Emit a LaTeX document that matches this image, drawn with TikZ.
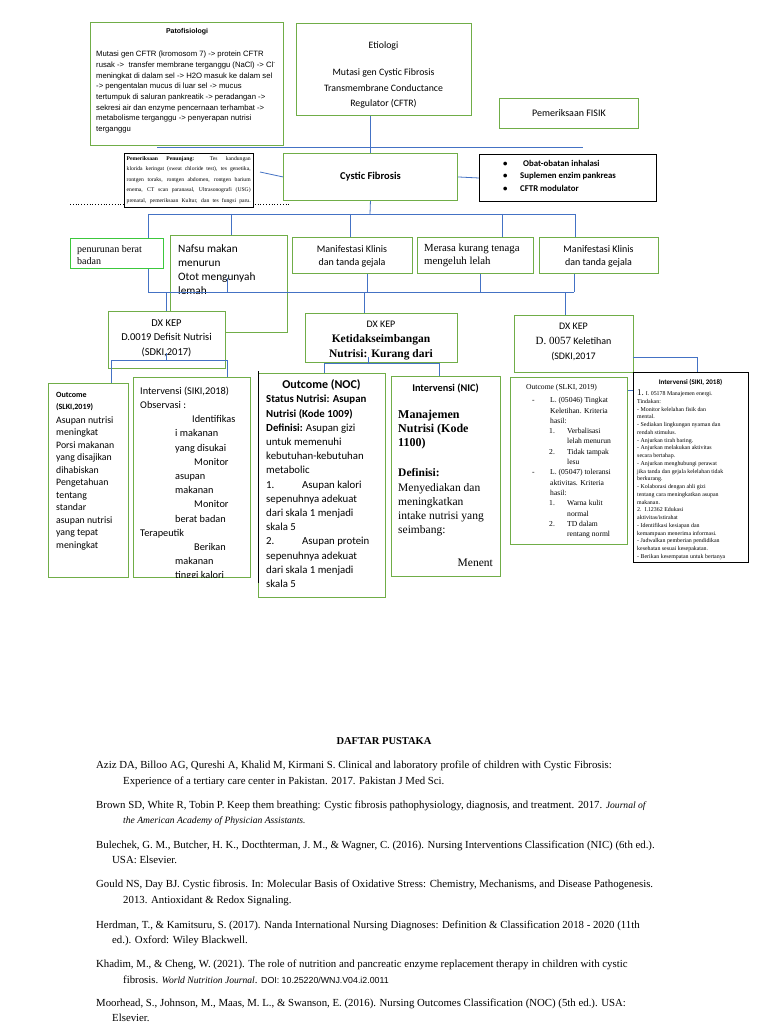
\documentclass[tikz,border=0pt]{standalone}
\usepackage{fontspec}
\setmainfont{Liberation Serif}
\newfontfamily\fcal{Carlito}
\newfontfamily\ftim{Liberation Serif}
\newfontfamily\fari{Liberation Sans}
\newcommand\fsz[2]{\fontsize{#1}{#2}\selectfont}
\definecolor{gr}{RGB}{112,173,71}
\definecolor{bgr}{RGB}{60,200,60}
\definecolor{cb}{RGB}{68,114,196}
\begin{document}
\begin{tikzpicture}[x=1pt,y=-1pt,
 gbox/.style={draw=gr,line width=0.9pt,fill=white,inner sep=0,anchor=north west},
 kbox/.style={draw=black,line width=1pt,fill=white,inner sep=0,anchor=north west},
 con/.style={draw=cb,line width=0.8pt},
 tl/.style={inner sep=0,anchor=north west,align=left},
 tc/.style={inner sep=0,anchor=north,align=center},
 tx/.style={inner sep=0}]
\useasboundingbox[fill=white] (0,0) rectangle (768,1024);

% ---------- top row
\node[gbox,minimum width=193,minimum height=123] (pat) at (90,22) {};
\node[tx,font={\fari\bfseries\fsz{7}{8}}] (patt) at (187,32) {Patofisiologi};
\node[tl,font={\fari\fsz{7.7}{10.7}}] (patb) at (96,51) {Mutasi gen CFTR (kromosom 7) -> protein CFTR\\
rusak ->\ \ transfer membrane terganggu (NaCl) -> Cl\textsuperscript{-}\\
meningkat di dalam sel -> H2O masuk ke dalam sel\\
-> pengentalan mucus di luar sel -> mucus\\
tertumpuk di saluran pankreatik -> peradangan ->\\
sekresi air dan enzyme pencernaan terhambat ->\\
metabolisme terganggu -> penyerapan nutrisi\\
terganggu};

\node[gbox,minimum width=175,minimum height=92] (eti) at (296,23) {};
\node[tx,font={\fcal\fsz{9.8}{12}}] (etit) at (383.5,46) {Etiologi};
\node[tc,font={\fcal\fsz{9.8}{15.5}}] (etib) at (383.5,68.5) {Mutasi gen Cystic Fibrosis\\Transmembrane Conductance\\Regulator (CFTR)};

\node[gbox,minimum width=139,minimum height=30] (fis) at (499,98) {};
\node[tx,font={\fcal\fsz{10}{12}}] (fist) at (fis.center) {Pemeriksaan FISIK};

% ---------- second row
\coordinate (b0l) at (157,147);
\coordinate (b0r) at (583,147);
\draw[con] (b0l) -- (b0r);

\coordinate (dl) at (70,204);
\coordinate (dr) at (290,204);
\draw[black,dotted,line width=0.8pt] (dl) -- (dr);

\node[gbox,minimum width=174,minimum height=47] (cf) at (283,153) {};
\node[tx,font={\fcal\bfseries\fsz{10.5}{12}}] (cft) at (cf.center) {Cystic Fibrosis};
\draw[con] (eti.south -| cf.north) -- (cf.north);

\node[kbox,minimum width=129,minimum height=54] (pen) at (124,153) {};
\node[tl,font={\ftim\fsz{5.65}{10.5}}] (pent) at (126.5,156) {%
\makebox[124pt][s]{\textbf{Pemeriksaan Penunjang:} Tes kandungan}\\
\makebox[124pt][s]{klorida keringat (sweat chloride test), tes genetika,}\\
\makebox[124pt][s]{rontgen toraks, rontgen abdomen, rontgen barium}\\
\makebox[124pt][s]{enema, CT scan paranasal, Ultrasonografi (USG)}\\
\makebox[124pt][s]{prenatal, pemeriksaan Kultur, dan tes fungsi paru.}};
\coordinate (pj) at (260,172);
\draw[con] (cf.west) -- (pj);

\node[kbox,minimum width=177,minimum height=47] (obat) at (479,154) {};
\node[tl,font={\fcal\bfseries\fsz{8.8}{12.5}}] (obatt) at (503,160) {%
\makebox[17pt][l]{\textbullet}\hspace{3pt}Obat-obatan inhalasi\\
\makebox[17pt][l]{\textbullet}Suplemen enzim pankreas\\
\makebox[17pt][l]{\textbullet}CFTR modulator};
\draw[con] (cf.east) -- (obat.west);

% ---------- third row
\node[gbox,draw=bgr,minimum width=93,minimum height=30] (pbb) at (70,238) {};
\node[tl,font={\ftim\fsz{10}{12}}] (pbbt) at (77,245.5) {penurunan berat\\badan};

\node[gbox,minimum width=117,minimum height=97] (naf) at (170,235) {};
\node[tl,font={\fcal\fsz{11.3}{14}}] (naft) at (178,244) {Nafsu makan\\menurun\\Otot mengunyah\\lemah};

\node[gbox,minimum width=120,minimum height=36] (mk1) at (292,237) {};
\node[tc,font={\fcal\fsz{10}{13}}] (mk1t) at (352,245.5) {Manifestasi Klinis\\dan tanda gejala};

\node[gbox,minimum width=116,minimum height=36] (mer) at (417,237) {};
\node[tl,font={\ftim\fsz{10.8}{13}}] (mert) at (424,244) {Merasa kurang tenaga\\mengeluh lelah};

\node[gbox,minimum width=119,minimum height=36] (mk2) at (539,237) {};
\node[tc,font={\fcal\fsz{10}{13}}] (mk2t) at (598.5,245.5) {Manifestasi Klinis\\dan tanda gejala};

% bus 1
\coordinate (b1c) at (370,214);
\coordinate (b1l) at (148,214);
\coordinate (b1r) at (575,214);
\draw[con] (cf.south) -- (b1c);
\draw[con] (b1l) -- (b1r);
\draw[con] (b1l) -- (pbb.north -| b1l);
\draw[con] (231,214) -- (naf.north -| 231,0);
\draw[con] (350,214) -- (mk1.north -| 350,0);
\draw[con] (502,214) -- (mer.north -| 502,0);
\draw[con] (b1r) -- (mk2.north -| b1r);

% bus 2
\coordinate (b2l) at (148,292);
\coordinate (b2r) at (574,292);
\coordinate (nafb) at (227,278);
\draw[con] (b2l) -- (b2r);
\draw[con] (pbb.south -| b2l) -- (b2l);
\draw[con] (nafb) -- (227,292);
\draw[con] (mk1.south -| 367,0) -- (367,292);
\draw[con] (mer.south -| 480,0) -- (480,292);
\draw[con] (mk2.south -| b2r) -- (b2r);

% ---------- DX row
\node[gbox,minimum width=117,minimum height=57] (dx1) at (108,311) {};
\node[tc,font={\fcal\fsz{10.5}{14.5}}] (dx1t) at (166.5,319.3) {DX KEP\\D.0019 Defisit Nutrisi\\(SDKI,2017)};
\draw[con] (166,292) -- (dx1.north -| 166,0);

\node[gbox,minimum width=152,minimum height=49] (dx2) at (305,313) {};
\node[tx,font={\fcal\fsz{10}{12}}] (dx2a) at (381,324) {DX KEP};
\begin{scope}
\clip (305,313) rectangle (457,362);
\node[tc,font={\ftim\bfseries\fsz{11.5}{14.5}}] (dx2b) at (381,334.5) {Ketidakseimbangan\\Nutrisi: Kurang dari};
\end{scope}
\draw[con] (364,292) -- (dx2.north -| 364,0);

\node[gbox,minimum width=119,minimum height=57] (dx3) at (514,315) {};
\node[tc,font={\fcal\fsz{10}{15}}] (dx3t) at (573.5,322.5) {DX KEP\\{\ftim\fsz{11}{15}D. 0057} Keletihan\\(SDKI,2017};
\draw[con] (565,292) -- (dx3.north -| 565,0);

% ---------- bottom boxes
\node[gbox,minimum width=80,minimum height=194] (out1) at (48,383) {};
\node[tl,font={\fcal\bfseries\fsz{8}{12.5}}] (out1h) at (56,392) {Outcome\\(SLKI,2019)};
\node[tl,font={\fcal\fsz{9.8}{12.5}}] (out1b) at (56,416.5) {Asupan nutrisi\\meningkat\\Porsi makanan\\yang disajikan\\dihabiskan\\Pengetahuan\\tentang\\standar\\asupan nutrisi\\yang tepat\\meningkat};

\node[gbox,minimum width=117,minimum height=200] (int1) at (133,377) {};
\begin{scope}
\clip (133,377) rectangle (250,577);
\node[tl,font={\fcal\fsz{10.3}{14.2}}] (int1t) at (140,386.5) {Intervensi (SIKI,2018)\\
Observasi :\\
\hspace*{52pt}Identifikas\\
\hspace*{35pt}i makanan\\
\hspace*{35pt}yang disukai\\
\hspace*{54pt}Monitor\\
\hspace*{35pt}asupan\\
\hspace*{35pt}makanan\\
\hspace*{54pt}Monitor\\
\hspace*{35pt}berat badan\\
Terapeutik\\
\hspace*{54pt}Berikan\\
\hspace*{35pt}makanan\\
\hspace*{35pt}tinggi kalori};
\end{scope}

\coordinate (d1a) at (166,353);
\coordinate (d1b) at (166,360);
\draw[con] (d1a) -- (d1b);
\draw[con] (out1.north -| 111,0) |- (227,360) -- (int1.north -| 227,0);

\node[gbox,minimum width=127,minimum height=224] (noc) at (258,373) {};
\coordinate (kl1) at (258,371);
\coordinate (kl2) at (258,583);
\draw[black,line width=0.9pt] (kl1) -- (kl2);
\node[tx,font={\fcal\bfseries\fsz{12}{14}}] (noct) at (321.5,385) {Outcome (NOC)};
\node[tl,font={\fcal\fsz{10.8}{14.2}}] (nocb) at (266,395.2) {\textbf{Status Nutrisi: Asupan}\\
\textbf{Nutrisi (Kode 1009)}\\
\textbf{Definisi:} Asupan gizi\\
untuk memenuhi\\
kebutuhan-kebutuhan\\
metabolic\\
\makebox[36pt][l]{1.}Asupan kalori\\
sepenuhnya adekuat\\
dari skala 1 menjadi\\
skala 5\\
\makebox[36pt][l]{2.}Asupan protein\\
sepenuhnya adekuat\\
dari skala 1 menjadi\\
skala 5};

\node[gbox,minimum width=109,minimum height=200] (nic) at (391,376) {};
\node[tx,font={\fcal\bfseries\fsz{10.3}{12}}] (nict) at (445.5,388) {Intervensi (NIC)};
\node[tl,font={\ftim\bfseries\fsz{12}{14.2}}] (nicb1) at (398,409.5) {Manajemen\\Nutrisi (Kode\\1100)};
\node[tl,font={\ftim\fsz{11.5}{14.2}}] (nicb2) at (398,468.5) {\textbf{Definisi:}\\Menyediakan dan\\meningkatkan\\intake nutrisi yang\\seimbang:};
\node[tx,anchor=east,font={\ftim\fsz{11.5}{14}}] (nicm) at (493,563) {Menent};

\coordinate (d2a) at (368,357);
\coordinate (d2b) at (368,363);
\draw[con] (d2a) -- (d2b);
\draw[con] (noc.north -| 324,0) |- (439,363) -- (nic.north -| 439,0);

\node[gbox,minimum width=117,minimum height=167] (out3) at (510,377) {};
\node[tl,font={\ftim\fsz{7.6}{10.3}}] (out3h) at (526,384.3) {Outcome (SLKI, 2019)};
\node[tl,font={\ftim\fsz{7.6}{10.3}}] (out3b) at (532,397.3) {%
\makebox[18pt][l]{-}L. (05046) Tingkat\\
\hspace*{18pt}Keletihan. Kriteria\\
\hspace*{18pt}hasil:\\
\hspace*{17pt}\makebox[18pt][l]{1.}Verbalisasi\\
\hspace*{35pt}lelah menurun\\
\hspace*{17pt}\makebox[18pt][l]{2.}Tidak tampak\\
\hspace*{35pt}lesu\\
\makebox[18pt][l]{-}L. (05047) toleransi\\
\hspace*{18pt}aktivitas. Kriteria\\
\hspace*{18pt}hasil:\\
\hspace*{17pt}\makebox[18pt][l]{1.}Warna kulit\\
\hspace*{35pt}normal\\
\hspace*{17pt}\makebox[18pt][l]{2.}TD dalam\\
\hspace*{35pt}rentang norml};

\node[kbox,minimum width=115,minimum height=190] (siki) at (633,372) {};
\node[tx,font={\fcal\bfseries\fsz{7}{8}}] (sikit) at (690.5,382) {Intervensi (SIKI, 2018)};
\begin{scope}
\clip (633,372) rectangle (748,562);
\node[tl,font={\ftim\fsz{5.9}{7.75}}] (sikib) at (637,389.5) {{\fsz{9}{7.75}1.} I. 05178 Manajemen energi.\\
Tindakan:\\
- Monitor kelelahan fisik dan\\
mental.\\
- Sediakan lingkungan nyaman dan\\
rendah stimulus.\\
- Anjurkan tirah baring.\\
- Anjurkan melakukan aktivitas\\
secara bertahap.\\
- Anjurkan menghubungi perawat\\
jika tanda dan gejala kelelahan tidak\\
berkurang.\\
- Kolaborasi dengan ahli gizi\\
tentang cara meningkatkan asupan\\
makanan.\\
2.\ \ I.12362 Edukasi\\
aktivitas/istirahat\\
- Identifikasi kesiapan dan\\
kemampuan menerima informasi.\\
- Jadwalkan pemberian pendidikan\\
kesehatan sesuai kesepakatan.\\
- Berikan kesempatan untuk bertanya};
\end{scope}

\coordinate (d3a) at (633,357);
\coordinate (d3b) at (697,357);
\draw[con] (d3a) -- (d3b) -- (siki.north -| d3b);
\draw[con] (out3.east |- 0,390) -- (siki.west |- 0,390);

% ---------- references
\node[tx,font={\ftim\bfseries\fsz{10.5}{12}}] (dp) at (384,741) {DAFTAR PUSTAKA};
\begin{scope}[every node/.style={tl,font={\ftim\fsz{10.8}{15.5}}}]
\node (r1) at (96,761.1) {Aziz DA, Billoo AG, Qureshi A, Khalid M, Kirmani S. Clinical and laboratory profile of children with Cystic Fibrosis:\\
\hspace*{27pt}Experience of a tertiary care center in Pakistan. 2017. Pakistan J Med Sci.};
\node (r2) at (96,800.6) {Brown SD, White R, Tobin P. Keep them breathing: Cystic fibrosis pathophysiology, diagnosis, and treatment. 2017. {\itshape\fsz{9.6}{15.5}Journal of}\\
\hspace*{27pt}{\itshape\fsz{9.6}{15.5}the American Academy of Physician Assistants.}};
\node (r3) at (96,840.6) {Bulechek, G. M., Butcher, H. K., Docthterman, J. M., \& Wagner, C. (2016). Nursing Interventions Classification (NIC) (6th ed.).\\
\hspace*{16pt}USA: Elsevier.};
\node (r4) at (96,880.1) {Gould NS, Day BJ. Cystic fibrosis. In: Molecular Basis of Oxidative Stress: Chemistry, Mechanisms, and Disease Pathogenesis.\\
\hspace*{27pt}2013. Antioxidant \& Redox Signaling.};
\node (r5) at (96,920.6) {Herdman, T., \& Kamitsuru, S. (2017). Nanda International Nursing Diagnoses: Definition \& Classification 2018 - 2020 (11th\\
\hspace*{16pt}ed.). Oxford: Wiley Blackwell.};
\node (r6) at (96,960.1) {Khadim, M., \& Cheng, W. (2021). The role of nutrition and pancreatic enzyme replacement therapy in children with cystic\\
\hspace*{27pt}fibrosis. {\itshape\fsz{9.6}{15.5}World Nutrition Journal}. {\fari\fsz{8.8}{15.5}DOI: 10.25220/WNJ.V04.i2.0011}};
\node (r7) at (96,998.6) {Moorhead, S., Johnson, M., Maas, M. L., \& Swanson, E. (2016). Nursing Outcomes Classification (NOC) (5th ed.). USA:\\
\hspace*{16pt}Elsevier.};
\end{scope}
\end{tikzpicture}
\end{document}
